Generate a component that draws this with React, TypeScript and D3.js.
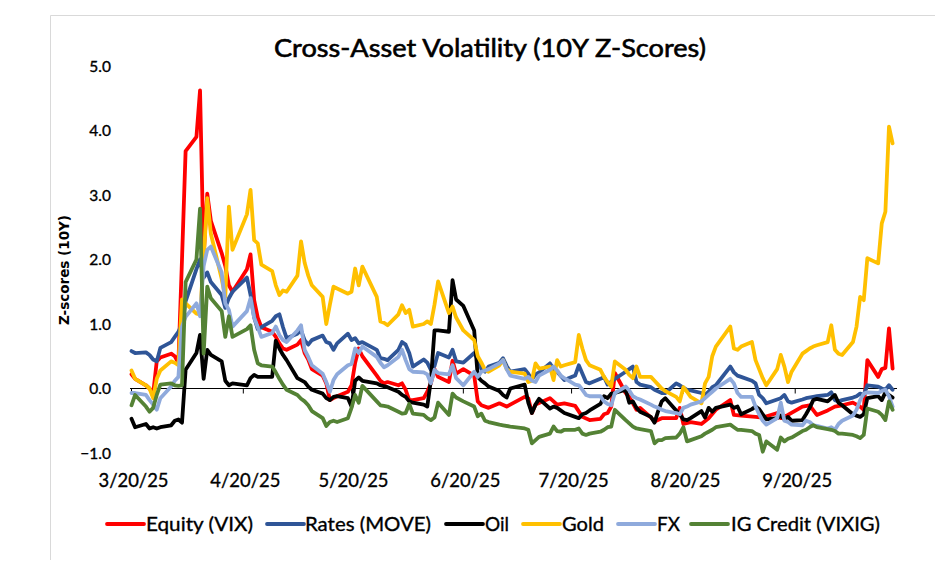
/**
 * Cross-Asset Volatility (10Y Z-Scores)
 * Line chart of six volatility z-scores, 3/20/25 - 10/17/25.
 */
import React, { useRef, useEffect } from 'react';
import * as d3 from 'd3';

type Pt = [string, number];

// Equity (VIX)
const equity: Pt[] = [
  ['3/20', 0.22], ['3/21', 0.15], ['3/24', 0.05], ['3/25', 0.0], ['3/26', -0.08], ['3/27', 0.42], ['3/28', 0.48],
  ['3/31', 0.54], ['4/1', 0.5], ['4/2', 0.4], ['4/3', 2.0], ['4/4', 3.68], ['4/7', 3.9], ['4/8', 4.62], ['4/9', 2.05],
  ['4/10', 3.02], ['4/11', 2.6], ['4/14', 2.1], ['4/15', 1.9], ['4/16', 1.6], ['4/17', 1.5], ['4/21', 1.85],
  ['4/22', 2.08], ['4/23', 1.37], ['4/24', 1.1], ['4/25', 0.95], ['4/28', 0.88], ['4/29', 0.8], ['4/30', 0.7],
  ['5/1', 0.62], ['5/2', 0.6], ['5/5', 0.68], ['5/6', 0.75], ['5/7', 0.55], ['5/8', 0.45], ['5/9', 0.3], ['5/12', 0.2],
  ['5/13', 0.08], ['5/14', -0.18], ['5/15', -0.15], ['5/16', -0.12], ['5/19', -0.05], ['5/20', 0.05], ['5/21', 0.4],
  ['5/22', 0.62], ['5/23', 0.5], ['5/27', 0.2], ['5/28', 0.12], ['5/29', 0.08], ['5/30', 0.1], ['6/2', 0.05],
  ['6/3', 0.08], ['6/4', -0.02], ['6/5', -0.18], ['6/6', -0.18], ['6/9', -0.15], ['6/10', -0.05], ['6/11', 0.08],
  ['6/12', 0.3], ['6/13', 0.18], ['6/16', 0.1], ['6/17', 0.43], ['6/18', 0.23], ['6/20', 0.3], ['6/23', 0.2],
  ['6/24', -0.2], ['6/25', -0.26], ['6/27', -0.3], ['6/30', -0.23], ['7/2', -0.28], ['7/3', -0.25], ['7/7', -0.13],
  ['7/8', -0.15], ['7/9', -0.38], ['7/10', -0.25], ['7/14', -0.15], ['7/16', -0.25], ['7/18', -0.23], ['7/21', -0.27],
  ['7/23', -0.44], ['7/25', -0.49], ['7/28', -0.47], ['7/29', -0.4], ['7/30', -0.38], ['7/31', -0.28], ['8/1', 0.24],
  ['8/4', -0.07], ['8/5', -0.13], ['8/7', -0.33], ['8/8', -0.3], ['8/11', -0.45], ['8/12', -0.51], ['8/14', -0.46],
  ['8/18', -0.46], ['8/19', -0.3], ['8/20', -0.55], ['8/22', -0.52], ['8/25', -0.55], ['8/27', -0.46], ['8/29', -0.33],
  ['9/2', -0.18], ['9/3', -0.41], ['9/5', -0.42], ['9/9', -0.44], ['9/11', -0.45], ['9/15', -0.38], ['9/16', -0.46],
  ['9/18', -0.41], ['9/22', -0.28], ['9/24', -0.26], ['9/26', -0.41], ['9/29', -0.34], ['10/1', -0.28], ['10/3', -0.26],
  ['10/6', -0.22], ['10/8', -0.28], ['10/9', -0.33], ['10/10', 0.44], ['10/13', 0.18], ['10/14', 0.3], ['10/15', 0.32],
  ['10/16', 0.93], ['10/17', 0.31],
];

// Rates (MOVE)
const rates: Pt[] = [
  ['3/20', 0.58], ['3/21', 0.55], ['3/24', 0.56], ['3/25', 0.52], ['3/26', 0.45], ['3/27', 0.42], ['3/28', 0.63],
  ['3/31', 0.72], ['4/1', 0.8], ['4/2', 0.88], ['4/3', 1.0], ['4/4', 1.35], ['4/7', 1.85], ['4/8', 2.0], ['4/9', 1.72],
  ['4/10', 1.8], ['4/11', 1.65], ['4/14', 1.45], ['4/15', 1.25], ['4/16', 1.4], ['4/17', 1.5], ['4/21', 1.72],
  ['4/22', 1.45], ['4/23', 1.1], ['4/24', 0.92], ['4/25', 0.95], ['4/28', 1.05], ['4/29', 1.12], ['4/30', 1.15],
  ['5/1', 0.95], ['5/2', 0.78], ['5/5', 0.85], ['5/6', 0.9], ['5/7', 0.75], ['5/8', 0.68], ['5/9', 0.75], ['5/12', 0.82],
  ['5/13', 0.72], ['5/14', 0.7], ['5/15', 0.6], ['5/16', 0.7], ['5/19', 0.85], ['5/20', 0.75], ['5/21', 0.78],
  ['5/22', 0.7], ['5/23', 0.72], ['5/27', 0.6], ['5/28', 0.47], ['5/29', 0.46], ['5/30', 0.44], ['6/2', 0.6],
  ['6/3', 0.72], ['6/4', 0.68], ['6/5', 0.55], ['6/6', 0.34], ['6/9', 0.45], ['6/10', 0.4], ['6/11', 0.29],
  ['6/12', 0.35], ['6/13', 0.55], ['6/16', 0.48], ['6/17', 0.6], ['6/18', 0.42], ['6/20', 0.4], ['6/23', 0.55],
  ['6/24', 0.45], ['6/25', 0.3], ['6/26', 0.26], ['6/27', 0.34], ['6/30', 0.4], ['7/1', 0.47], ['7/2', 0.35],
  ['7/3', 0.26], ['7/7', 0.3], ['7/8', 0.23], ['7/9', 0.14], ['7/10', 0.22], ['7/11', 0.25], ['7/14', 0.39],
  ['7/15', 0.3], ['7/16', 0.26], ['7/18', 0.13], ['7/21', 0.2], ['7/22', 0.36], ['7/24', 0.1], ['7/25', 0.08],
  ['7/28', 0.15], ['7/29', 0.18], ['7/30', 0.06], ['8/1', 0.15], ['8/4', 0.26], ['8/5', 0.3], ['8/6', 0.34],
  ['8/7', 0.1], ['8/8', 0.06], ['8/11', 0.02], ['8/12', -0.02], ['8/14', -0.07], ['8/15', -0.07], ['8/18', 0.08],
  ['8/19', 0.05], ['8/21', -0.02], ['8/22', -0.03], ['8/25', -0.07], ['8/26', -0.1], ['8/27', -0.05], ['8/28', 0.02],
  ['8/29', 0.05], ['9/2', 0.34], ['9/3', 0.25], ['9/4', 0.2], ['9/5', 0.18], ['9/8', 0.12], ['9/9', 0.08],
  ['9/10', -0.1], ['9/11', -0.15], ['9/12', -0.23], ['9/15', -0.17], ['9/16', -0.15], ['9/17', -0.1], ['9/18', -0.2],
  ['9/19', -0.22], ['9/22', -0.17], ['9/23', -0.15], ['9/25', -0.13], ['9/26', -0.12], ['9/29', -0.1], ['9/30', -0.06],
  ['10/1', -0.18], ['10/2', -0.2], ['10/3', -0.18], ['10/6', -0.14], ['10/7', -0.12], ['10/8', -0.08], ['10/9', -0.1],
  ['10/10', 0.05], ['10/13', 0.03], ['10/14', 0.0], ['10/15', -0.02], ['10/16', 0.05], ['10/17', -0.02],
];

// Oil
const oil: Pt[] = [
  ['3/20', -0.47], ['3/21', -0.6], ['3/24', -0.55], ['3/25', -0.62], ['3/26', -0.6], ['3/27', -0.62], ['3/28', -0.6],
  ['3/31', -0.57], ['4/1', -0.5], ['4/2', -0.48], ['4/3', -0.53], ['4/4', 0.29], ['4/7', 0.55], ['4/8', 0.83],
  ['4/9', 0.15], ['4/10', 0.6], ['4/11', 0.52], ['4/14', 0.42], ['4/15', 0.12], ['4/16', 0.05], ['4/17', 0.08],
  ['4/21', 0.05], ['4/22', 0.16], ['4/23', 0.21], ['4/24', 0.18], ['4/25', 0.18], ['4/28', 0.18], ['4/29', 0.74],
  ['4/30', 0.62], ['5/1', 0.52], ['5/2', 0.44], ['5/5', 0.16], ['5/6', 0.13], ['5/7', 0.1], ['5/8', 0.03],
  ['5/9', -0.02], ['5/12', -0.08], ['5/13', -0.15], ['5/14', -0.18], ['5/15', -0.13], ['5/16', -0.12], ['5/19', -0.15],
  ['5/20', -0.28], ['5/21', 0.12], ['5/22', 0.17], ['5/23', 0.12], ['5/27', 0.08], ['5/28', 0.05], ['5/30', 0.02],
  ['6/2', -0.05], ['6/3', -0.1], ['6/4', -0.13], ['6/5', -0.2], ['6/6', -0.22], ['6/9', -0.25], ['6/10', -0.28],
  ['6/11', 0.13], ['6/12', 0.9], ['6/13', 0.9], ['6/16', 0.88], ['6/17', 1.68], ['6/18', 1.38], ['6/20', 1.28],
  ['6/23', 0.9], ['6/24', 0.18], ['6/25', 0.12], ['6/26', 0.08], ['6/27', 0.03], ['6/30', -0.04], ['7/1', -0.1],
  ['7/2', -0.14], ['7/3', 0.0], ['7/7', 0.06], ['7/8', -0.22], ['7/9', -0.38], ['7/10', -0.25], ['7/11', -0.16],
  ['7/14', -0.31], ['7/15', -0.28], ['7/16', -0.3], ['7/18', -0.38], ['7/21', -0.44], ['7/22', -0.46], ['7/23', -0.4],
  ['7/24', -0.38], ['7/25', -0.34], ['7/28', -0.24], ['7/29', -0.12], ['7/30', -0.15], ['7/31', -0.08], ['8/1', -0.07],
  ['8/4', -0.02], ['8/5', -0.22], ['8/6', -0.2], ['8/7', -0.3], ['8/8', -0.36], ['8/11', -0.44], ['8/12', -0.53],
  ['8/13', -0.35], ['8/14', -0.2], ['8/15', -0.15], ['8/18', -0.34], ['8/19', -0.4], ['8/20', -0.48], ['8/21', -0.49],
  ['8/22', -0.46], ['8/25', -0.35], ['8/26', -0.45], ['8/27', -0.3], ['8/28', -0.36], ['8/29', -0.3], ['9/2', -0.25],
  ['9/3', -0.3], ['9/4', -0.28], ['9/5', -0.4], ['9/8', -0.32], ['9/9', -0.28], ['9/10', -0.32], ['9/11', -0.4],
  ['9/12', -0.48], ['9/15', -0.46], ['9/16', -0.42], ['9/17', -0.48], ['9/18', -0.44], ['9/19', -0.5], ['9/22', -0.49],
  ['9/23', -0.4], ['9/24', -0.3], ['9/25', -0.18], ['9/26', -0.16], ['9/29', -0.2], ['9/30', -0.15], ['10/1', -0.1],
  ['10/2', -0.22], ['10/3', -0.26], ['10/6', -0.4], ['10/7', -0.42], ['10/8', -0.44], ['10/9', -0.4], ['10/10', -0.15],
  ['10/13', -0.12], ['10/14', -0.18], ['10/15', -0.06], ['10/16', -0.1], ['10/17', -0.14],
];

// Gold
const gold: Pt[] = [
  ['3/20', 0.28], ['3/21', 0.15], ['3/24', 0.05], ['3/25', 0.0], ['3/26', -0.15], ['3/27', 0.15], ['3/28', 0.28],
  ['3/31', 0.42], ['4/1', 0.4], ['4/2', 0.36], ['4/3', 1.38], ['4/4', 1.32], ['4/7', 1.16], ['4/8', 1.15], ['4/9', 2.0],
  ['4/10', 2.95], ['4/11', 2.4], ['4/14', 1.7], ['4/15', 1.42], ['4/16', 2.82], ['4/17', 2.15], ['4/21', 2.7],
  ['4/22', 3.08], ['4/23', 2.3], ['4/24', 2.25], ['4/25', 1.92], ['4/28', 1.82], ['4/29', 1.6], ['4/30', 1.45],
  ['5/1', 1.52], ['5/2', 1.5], ['5/5', 1.75], ['5/6', 2.28], ['5/7', 1.95], ['5/8', 1.75], ['5/9', 1.6], ['5/12', 1.42],
  ['5/13', 1.0], ['5/14', 1.3], ['5/15', 1.58], ['5/16', 1.55], ['5/19', 1.47], ['5/20', 1.5], ['5/21', 1.86],
  ['5/22', 1.6], ['5/23', 1.89], ['5/27', 1.42], ['5/28', 1.04], ['5/29', 1.02], ['5/30', 0.98], ['6/2', 1.15],
  ['6/3', 1.29], ['6/4', 1.17], ['6/5', 1.22], ['6/6', 0.96], ['6/9', 1.0], ['6/10', 1.04], ['6/11', 1.0],
  ['6/12', 1.3], ['6/13', 1.66], ['6/16', 1.17], ['6/17', 1.27], ['6/18', 1.1], ['6/20', 0.9], ['6/23', 0.75],
  ['6/24', 0.5], ['6/25', 0.4], ['6/26', 0.29], ['6/27', 0.26], ['6/30', 0.36], ['7/1', 0.44], ['7/2', 0.3],
  ['7/3', 0.26], ['7/7', 0.23], ['7/8', 0.1], ['7/9', 0.12], ['7/10', 0.39], ['7/11', 0.31], ['7/14', 0.34],
  ['7/15', 0.13], ['7/16', 0.44], ['7/17', 0.34], ['7/18', 0.36], ['7/21', 0.41], ['7/22', 0.83], ['7/23', 0.62],
  ['7/24', 0.44], ['7/25', 0.36], ['7/28', 0.29], ['7/29', 0.18], ['7/30', 0.1], ['7/31', 0.03], ['8/1', 0.42],
  ['8/4', 0.29], ['8/5', 0.21], ['8/6', 0.16], ['8/7', 0.34], ['8/8', 0.18], ['8/11', 0.18], ['8/12', 0.12],
  ['8/13', 0.06], ['8/14', 0.0], ['8/15', -0.04], ['8/18', -0.13], ['8/19', -0.2], ['8/20', 0.02], ['8/21', -0.05],
  ['8/22', -0.13], ['8/25', -0.23], ['8/26', 0.08], ['8/27', 0.18], ['8/28', 0.5], ['8/29', 0.65], ['9/2', 0.96],
  ['9/3', 0.62], ['9/4', 0.6], ['9/5', 0.65], ['9/8', 0.72], ['9/9', 0.44], ['9/10', 0.3], ['9/11', 0.16],
  ['9/12', 0.05], ['9/15', 0.3], ['9/16', 0.52], ['9/17', 0.34], ['9/18', 0.1], ['9/19', 0.26], ['9/22', 0.54],
  ['9/23', 0.58], ['9/24', 0.62], ['9/25', 0.65], ['9/26', 0.67], ['9/29', 0.72], ['9/30', 0.98], ['10/1', 0.6],
  ['10/2', 0.54], ['10/3', 0.52], ['10/6', 0.72], ['10/7', 0.96], ['10/8', 1.42], ['10/9', 1.37], ['10/10', 2.02],
  ['10/13', 1.94], ['10/14', 2.56], ['10/15', 2.74], ['10/16', 4.06], ['10/17', 3.8],
];

// FX
const fx: Pt[] = [
  ['3/20', -0.07], ['3/21', -0.07], ['3/24', -0.1], ['3/25', -0.18], ['3/26', -0.25], ['3/27', -0.33], ['3/28', -0.15],
  ['3/31', 0.03], ['4/1', 0.12], ['4/2', 0.18], ['4/3', 0.96], ['4/4', 1.11], ['4/7', 1.32], ['4/8', 1.12],
  ['4/9', 1.9], ['4/10', 2.15], ['4/11', 2.2], ['4/14', 1.8], ['4/15', 1.32], ['4/16', 1.22], ['4/17', 0.96],
  ['4/21', 1.2], ['4/22', 1.4], ['4/23', 1.1], ['4/24', 0.95], ['4/25', 0.8], ['4/28', 0.86], ['4/29', 0.96],
  ['4/30', 0.83], ['5/1', 0.75], ['5/2', 0.72], ['5/5', 0.9], ['5/6', 0.98], ['5/7', 0.6], ['5/8', 0.49], ['5/9', 0.36],
  ['5/12', 0.23], ['5/13', 0.1], ['5/14', -0.05], ['5/15', 0.13], ['5/16', 0.22], ['5/19', 0.36], ['5/20', 0.38],
  ['5/21', 0.62], ['5/22', 0.55], ['5/23', 0.65], ['5/27', 0.49], ['5/28', 0.4], ['5/29', 0.33], ['5/30', 0.36],
  ['6/2', 0.49], ['6/3', 0.6], ['6/4', 0.44], ['6/5', 0.3], ['6/6', 0.26], ['6/9', 0.25], ['6/10', 0.22],
  ['6/11', 0.08], ['6/12', 0.29], ['6/13', 0.24], ['6/16', 0.22], ['6/17', 0.36], ['6/18', 0.16], ['6/20', 0.05],
  ['6/23', 0.26], ['6/24', 0.18], ['6/25', 0.26], ['6/26', 0.28], ['6/27', 0.3], ['6/30', 0.39], ['7/1', 0.44],
  ['7/2', 0.3], ['7/3', 0.2], ['7/7', 0.15], ['7/8', 0.18], ['7/9', 0.12], ['7/10', 0.1], ['7/11', 0.2],
  ['7/14', 0.29], ['7/15', 0.34], ['7/16', 0.28], ['7/17', 0.2], ['7/18', 0.16], ['7/21', 0.06], ['7/22', 0.05],
  ['7/23', -0.02], ['7/24', -0.1], ['7/25', -0.12], ['7/28', -0.12], ['7/29', -0.2], ['7/30', -0.24], ['7/31', -0.26],
  ['8/1', -0.07], ['8/4', 0.03], ['8/5', -0.03], ['8/6', -0.12], ['8/7', -0.15], ['8/8', -0.17], ['8/11', -0.25],
  ['8/12', -0.28], ['8/13', -0.3], ['8/14', -0.33], ['8/15', -0.35], ['8/18', -0.38], ['8/19', -0.4], ['8/20', -0.3],
  ['8/21', -0.28], ['8/22', -0.25], ['8/25', -0.2], ['8/26', -0.15], ['8/27', -0.1], ['8/28', -0.05], ['8/29', 0.0],
  ['9/2', 0.15], ['9/3', 0.08], ['9/4', -0.07], ['9/5', -0.13], ['9/8', -0.13], ['9/9', -0.28], ['9/10', -0.4],
  ['9/11', -0.5], ['9/12', -0.56], ['9/15', -0.46], ['9/16', -0.22], ['9/17', -0.5], ['9/18', -0.52], ['9/19', -0.56],
  ['9/22', -0.57], ['9/23', -0.5], ['9/24', -0.52], ['9/25', -0.57], ['9/26', -0.58], ['9/29', -0.62], ['9/30', -0.6],
  ['10/1', -0.64], ['10/2', -0.55], ['10/3', -0.5], ['10/6', -0.42], ['10/7', -0.33], ['10/8', -0.18], ['10/9', -0.08],
  ['10/10', -0.06], ['10/13', -0.07], ['10/14', -0.04], ['10/15', -0.02], ['10/16', -0.12], ['10/17', -0.28],
];

// IG Credit (VIXIG)
const credit: Pt[] = [
  ['3/20', -0.26], ['3/21', -0.1], ['3/24', -0.28], ['3/25', -0.36], ['3/26', -0.3], ['3/27', -0.1], ['3/28', 0.06],
  ['3/31', 0.08], ['4/1', 0.05], ['4/2', 0.04], ['4/3', 0.05], ['4/4', 1.65], ['4/7', 2.0], ['4/8', 2.79],
  ['4/9', 0.54], ['4/10', 1.58], ['4/11', 1.4], ['4/14', 1.2], ['4/15', 0.8], ['4/16', 1.12], ['4/17', 0.8],
  ['4/21', 0.92], ['4/22', 0.98], ['4/23', 0.6], ['4/24', 0.39], ['4/25', 0.36], ['4/28', 0.34], ['4/29', 0.25],
  ['4/30', 0.15], ['5/1', 0.06], ['5/2', -0.02], ['5/5', -0.1], ['5/6', -0.16], ['5/7', -0.2], ['5/8', -0.26],
  ['5/9', -0.35], ['5/12', -0.46], ['5/13', -0.58], ['5/14', -0.52], ['5/15', -0.5], ['5/16', -0.52], ['5/19', -0.46],
  ['5/20', -0.3], ['5/21', -0.1], ['5/22', -0.22], ['5/23', 0.04], ['5/27', -0.2], ['5/28', -0.26], ['5/29', -0.27],
  ['5/30', -0.28], ['6/2', -0.36], ['6/3', -0.39], ['6/4', -0.38], ['6/5', -0.24], ['6/6', -0.39], ['6/9', -0.41],
  ['6/10', -0.46], ['6/11', -0.49], ['6/12', -0.45], ['6/13', -0.22], ['6/16', -0.41], ['6/17', -0.08], ['6/18', -0.14],
  ['6/20', -0.2], ['6/23', -0.28], ['6/24', -0.43], ['6/25', -0.39], ['6/26', -0.5], ['6/27', -0.52], ['6/30', -0.56],
  ['7/1', -0.57], ['7/3', -0.59], ['7/7', -0.62], ['7/8', -0.64], ['7/9', -0.85], ['7/10', -0.8], ['7/11', -0.75],
  ['7/14', -0.7], ['7/15', -0.59], ['7/16', -0.66], ['7/17', -0.67], ['7/18', -0.64], ['7/21', -0.64], ['7/22', -0.62],
  ['7/23', -0.7], ['7/24', -0.72], ['7/25', -0.7], ['7/28', -0.67], ['7/29', -0.64], ['7/30', -0.6], ['7/31', -0.59],
  ['8/1', -0.33], ['8/4', -0.49], ['8/5', -0.54], ['8/6', -0.59], ['8/7', -0.62], ['8/8', -0.63], ['8/11', -0.66],
  ['8/12', -0.85], ['8/13', -0.8], ['8/14', -0.8], ['8/15', -0.77], ['8/18', -0.76], ['8/19', -0.7], ['8/20', -0.6],
  ['8/21', -0.82], ['8/22', -0.8], ['8/25', -0.74], ['8/26', -0.7], ['8/27', -0.67], ['8/28', -0.64], ['8/29', -0.6],
  ['9/2', -0.56], ['9/3', -0.6], ['9/4', -0.64], ['9/5', -0.64], ['9/8', -0.66], ['9/9', -0.7], ['9/10', -0.72],
  ['9/11', -0.98], ['9/12', -0.82], ['9/15', -0.95], ['9/16', -0.76], ['9/17', -0.82], ['9/18', -0.78], ['9/19', -0.76],
  ['9/22', -0.66], ['9/23', -0.64], ['9/24', -0.6], ['9/25', -0.57], ['9/26', -0.6], ['9/29', -0.63], ['9/30', -0.64],
  ['10/1', -0.66], ['10/2', -0.7], ['10/3', -0.7], ['10/6', -0.72], ['10/7', -0.74], ['10/8', -0.77], ['10/9', -0.72],
  ['10/10', -0.31], ['10/13', -0.36], ['10/14', -0.41], ['10/15', -0.49], ['10/16', -0.2], ['10/17', -0.33],
];

const seriesNames = ['Equity (VIX)', 'Rates (MOVE)', 'Oil', 'Gold', 'FX', 'IG Credit (VIXIG)'];
const seriesData = [equity, rates, oil, gold, fx, credit];
const seriesColors = ['#FF0000', '#2F5597', '#000000', '#FFC000', '#8FAADC', '#548235'];

const xTickLabels = ['3/20/25', '4/20/25', '5/20/25', '6/20/25', '7/20/25', '8/20/25', '9/20/25'];
const yTicks = [-1, 0, 1, 2, 3, 4, 5];
const dateRange = ['3/20/25', '10/17/25'];

// legend slot x positions (line start, label start, label width)
const legendSlots = [
  [107, 146, 107], [267, 305, 126], [446, 485, 24], [523, 562, 42], [618, 657, 23], [691, 731, 149],
];

const parseDay = d3.timeParse('%m/%d/%y');
const toDate = (s: string) => parseDay(`${s}/25`) as Date;

export default function App() {
  const svgRef = useRef<SVGSVGElement>(null);

  useEffect(() => {
    if (!svgRef.current) return;
    const width = 935;
    const height = 582;
    const font = 'Lato, "Open Sans", sans-serif';

    const svg = d3.select(svgRef.current);
    svg.selectAll('*').remove();
    svg.attr('width', width).attr('height', height).attr('viewBox', `0 0 ${width} ${height}`);

    svg.append('rect').attr('width', width).attr('height', height).attr('fill', '#FFFFFF');

    // chart area border (top + left edge visible)
    svg.append('path')
      .attr('d', 'M50.5,560 V15.5 H935')
      .attr('fill', 'none')
      .attr('stroke', '#D9D9D9')
      .attr('stroke-width', 1);

    const x = d3.scaleTime()
      .domain(dateRange.map(d => parseDay(d) as Date))
      .range([131.5, 892.6]);
    const y = d3.scaleLinear().domain([-1, 5]).range([453, 66]);

    // title (thin stroke thickens Lato toward the heavier original face)
    svg.append('text')
      .attr('x', 490).attr('y', 57)
      .attr('text-anchor', 'middle')
      .attr('font-family', font)
      .attr('font-size', 25.5)
      .attr('textLength', 432)
      .attr('lengthAdjust', 'spacingAndGlyphs')
      .attr('fill', '#000')
      .attr('stroke', '#000')
      .attr('stroke-width', 0.6)
      .text('Cross-Asset Volatility (10Y Z-Scores)');

    // y tick labels
    svg.append('g')
      .selectAll('text')
      .data(yTicks)
      .join('text')
      .attr('x', 111)
      .attr('y', d => y(d) + 5.5)
      .attr('text-anchor', 'end')
      .attr('font-family', font)
      .attr('font-size', 15.5)
      .attr('fill', '#000')
      .attr('stroke', '#000')
      .attr('stroke-width', 0.35)
      .text(d => d3.format('.1f')(d));

    // y axis title
    svg.append('text')
      .attr('transform', 'translate(69,270) rotate(-90)')
      .attr('text-anchor', 'middle')
      .attr('font-family', '"DejaVu Sans", Verdana, sans-serif')
      .attr('font-weight', 'bold')
      .attr('font-size', 13.5)
      .attr('fill', '#000')
      .text('Z-scores (10Y)');

    // horizontal axis at zero with tick marks
    const y0 = y(0);
    svg.append('line')
      .attr('x1', 130).attr('x2', 897)
      .attr('y1', y0).attr('y2', y0)
      .attr('stroke', '#000').attr('stroke-width', 1.2);

    const tickDates = xTickLabels.map(d => parseDay(d) as Date);
    svg.append('g')
      .selectAll('line')
      .data(tickDates)
      .join('line')
      .attr('x1', d => x(d)).attr('x2', d => x(d))
      .attr('y1', y0).attr('y2', y0 + 5)
      .attr('stroke', '#000').attr('stroke-width', 1);

    svg.append('g')
      .selectAll('text')
      .data(tickDates)
      .join('text')
      .attr('x', d => x(d) + 2)
      .attr('y', 487)
      .attr('text-anchor', 'middle')
      .attr('font-family', font)
      .attr('font-size', 19)
      .attr('textLength', 70)
      .attr('lengthAdjust', 'spacingAndGlyphs')
      .attr('fill', '#000')
      .attr('stroke', '#000')
      .attr('stroke-width', 0.35)
      .text(d => d3.timeFormat('%-m/%d/%y')(d));

    // series
    const line = d3.line<Pt>()
      .x(d => x(toDate(d[0])))
      .y(d => y(d[1]));

    svg.append('g')
      .selectAll('path')
      .data(seriesData)
      .join('path')
      .attr('d', d => line(d))
      .attr('fill', 'none')
      .attr('stroke', (_, i) => seriesColors[i])
      .attr('stroke-width', 3.8)
      .attr('stroke-linejoin', 'round')
      .attr('stroke-linecap', 'round');

    // legend
    const legend = svg.append('g');
    legendSlots.forEach(([lx, tx, tw], i) => {
      legend.append('line')
        .attr('x1', lx).attr('x2', lx + 37)
        .attr('y1', 524).attr('y2', 524)
        .attr('stroke', seriesColors[i])
        .attr('stroke-width', 3.8)
        .attr('stroke-linecap', 'round');
      legend.append('text')
        .attr('x', tx).attr('y', 531)
        .attr('font-family', font)
        .attr('font-size', 20)
        .attr('textLength', tw)
        .attr('lengthAdjust', 'spacingAndGlyphs')
        .attr('fill', '#000')
        .attr('stroke', '#000')
        .attr('stroke-width', 0.35)
        .text(seriesNames[i]);
    });
  }, []);

  return (
    <div style={{ position: 'absolute', left: 0, top: 0, width: 935, height: 582, background: '#fff' }}>
      <svg ref={svgRef} style={{ display: 'block' }} />
    </div>
  );
}
